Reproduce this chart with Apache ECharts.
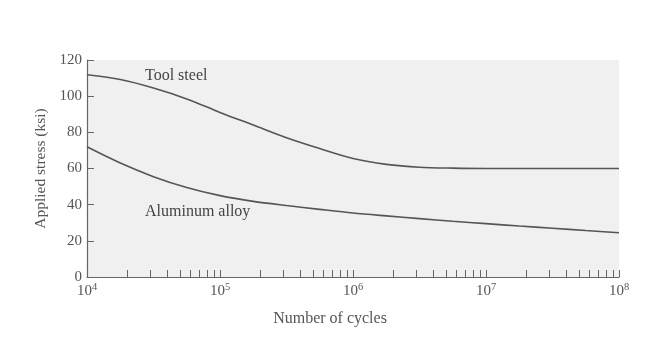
<!DOCTYPE html>
<html>
<head>
<meta charset="utf-8">
<script src="https://cdn.jsdelivr.net/npm/echarts@6/dist/echarts.min.js"></script>
<style>
html,body{margin:0;padding:0;background:#fff;}
#chart{width:664px;height:353px;}
</style>
</head>
<body>
<div id="chart"></div>
<script>
// number of cycles, quarter decades from 1e4 to 1e8
const cycles = [10000, 17800, 31600, 56200, 100000, 178000, 316000, 562000, 1000000,
  1780000, 3160000, 5620000, 10000000, 17800000, 31600000, 56200000, 100000000]
const toolSteel = [111.8, 109.2, 104.5, 98.5, 91, 84, 77, 71, 65.5, 62.3, 60.7, 60.2, 60, 60, 60, 60, 60]
const aluminum = [72, 63, 55.5, 49.5, 45, 41.8, 39.5, 37.4, 35.4, 33.8, 32.3, 30.8, 29.5, 28.2, 27, 25.7, 24.5]
const decades = [10000, 100000, 1000000, 10000000, 100000000]
const yTicks = [0, 20, 40, 60, 80, 100, 120]

const font = '"Liberation Serif", "DejaVu Serif", serif'
const ink = '#555'

// 2..10 ticks inside every decade
const logTicks = []
decades.slice(0, -1).forEach(d => {
  [2, 3, 4, 5, 6, 7, 8, 9, 10].forEach(k => logTicks.push(d * k))
})

const pairs = arr => cycles.map((c, i) => [c, arr[i]])

const myChart = echarts.init(document.getElementById('chart'))
myChart.setOption({
  animation: false,
  textStyle: {fontFamily: font},
  grid: {
    left: 87, right: 45, top: 60, bottom: 76,
    show: true, backgroundColor: '#f0f0f0', borderWidth: 0
  },
  xAxis: {
    type: 'log',
    logBase: 10,
    min: 10000,
    max: 100000000,
    name: 'Number of cycles',
    nameLocation: 'middle',
    nameGap: 34,
    nameTextStyle: {color: ink, fontSize: 16, fontFamily: font, padding: [0, 46, 0, 0]},
    axisLine: {lineStyle: {color: '#666', width: 1.2}},
    axisTick: {show: true, inside: true, length: 7, customValues: logTicks, lineStyle: {color: '#666'}},
    axisLabel: {
      customValues: decades,
      margin: 5,
      formatter(val) {
        return '{b|10}{s|' + Math.round(Math.log10(val)) + '}'
      },
      rich: {
        b: {fontSize: 15, color: ink, fontFamily: font},
        s: {fontSize: 10.5, color: ink, fontFamily: font, verticalAlign: 'top', padding: [0, 0, 8, 0]}
      }
    },
    splitLine: {show: false}
  },
  yAxis: {
    type: 'value',
    min: 0,
    max: 120,
    interval: 20,
    name: 'Applied stress (ksi)',
    nameLocation: 'middle',
    nameGap: 37,
    nameTextStyle: {color: ink, fontSize: 15.5, fontFamily: font},
    axisLine: {show: true, lineStyle: {color: '#666', width: 1.2}},
    axisTick: {show: true, inside: true, length: 7, lineStyle: {color: '#666'}},
    axisLabel: {
      color: ink, fontSize: 15, fontFamily: font, margin: 5,
      formatter(val) { return yTicks.includes(val) ? String(val) : '' }
    },
    splitLine: {show: false}
  },
  series: [
    {
      name: 'Tool steel',
      type: 'line',
      data: pairs(toolSteel),
      smooth: 0.3,
      symbol: 'none',
      lineStyle: {color: '#555', width: 1.6},
      markPoint: {
        symbol: 'circle', symbolSize: 0,
        label: {show: true, position: 'right', distance: 0, color: '#444', fontSize: 16, fontFamily: font, formatter: 'Tool steel'},
        data: [{coord: [27300, 111.5]}]
      }
    },
    {
      name: 'Aluminum alloy',
      type: 'line',
      data: pairs(aluminum),
      smooth: 0.3,
      symbol: 'none',
      lineStyle: {color: '#555', width: 1.6},
      markPoint: {
        symbol: 'circle', symbolSize: 0,
        label: {show: true, position: 'right', distance: 0, color: '#444', fontSize: 16, fontFamily: font, formatter: 'Aluminum alloy'},
        data: [{coord: [27300, 36]}]
      }
    }
  ]
})
</script>
</body>
</html>
